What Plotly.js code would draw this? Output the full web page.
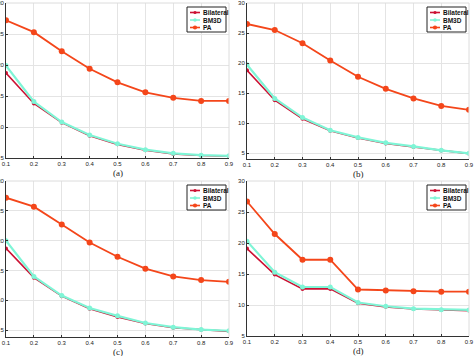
<!DOCTYPE html>
<html><head><meta charset="utf-8">
<script src="https://cdn.plot.ly/plotly-3.0.1.min.js"></script>
<style>html,body{margin:0;padding:0;background:#fff}#plot{width:474px;height:356px}</style>
</head><body><div id="plot"></div>
<script>
var xVals = [0.1,0.2,0.3,0.4,0.5,0.6,0.7,0.8,0.9];
var xTickLabels = ['0.1','0.2','0.3','0.4','0.5','0.6','0.7','0.8','0.9'];
var yTickVals = [5,10,15,20,25,30];
var seriesNames = ['Bilateral','BM3D','PA'];
var panelLabels = ['(a)','(b)','(c)','(d)'];

var bilateralA = [18.7,13.8,10.7,8.6,7.2,6.25,5.65,5.4,5.3];
var bm3dA      = [19.9,14.1,10.8,8.7,7.3,6.35,5.75,5.45,5.35];
var paA        = [27.2,25.3,22.2,19.4,17.2,15.6,14.7,14.2,14.2];

var bilateralB = [18.8,13.8,10.7,8.7,7.5,6.6,6.0,5.4,4.9];
var bm3dB      = [19.7,14.1,10.9,8.8,7.6,6.7,6.1,5.45,4.95];
var paB        = [26.5,25.5,23.3,20.4,17.7,15.7,14.1,12.85,12.2];

var bilateralC = [18.7,13.8,10.7,8.6,7.2,6.1,5.4,5.05,4.8];
var bm3dC      = [20.0,14.0,10.8,8.7,7.4,6.2,5.5,5.1,4.9];
var paC        = [27.2,25.7,22.7,19.7,17.3,15.3,14.0,13.4,13.1];

var bilateralD = [19.1,14.9,12.6,12.6,10.3,9.7,9.35,9.2,9.1];
var bm3dD      = [20.3,15.3,12.9,12.9,10.4,9.8,9.4,9.25,9.2];
var paD        = [26.7,21.45,17.3,17.3,12.5,12.35,12.2,12.15,12.15];

var colors = ['#cc1133','#7ff5d6','#f4461a'];
var W = 474, H = 356;

var panels = [
  {bil: bilateralA, bm: bm3dA, pa: paA, x0: 6, x1: 229, y0: 3, y1: 158, yr: [5,30]},
  {bil: bilateralB, bm: bm3dB, pa: paB, x0: 247, x1: 469, y0: 3, y1: 159, yr: [4,30]},
  {bil: bilateralC, bm: bm3dC, pa: paC, x0: 6, x1: 229, y0: 181, y1: 337, yr: [3.85,30]},
  {bil: bilateralD, bm: bm3dD, pa: paD, x0: 247, x1: 469, y0: 181, y1: 336, yr: [5,30]}
];

var traces = [], layout = {
  width: W, height: H, margin: {l:0,r:0,t:0,b:0},
  paper_bgcolor: '#fff', plot_bgcolor: '#fff', showlegend: false,
  font: {family: 'Liberation Sans, Arial, sans-serif', size: 6, color: '#222'},
  shapes: [], annotations: []
};

panels.forEach(function(p, i){
  var n = i + 1;
  var xa = 'x' + (n===1?'':n), ya = 'y' + (n===1?'':n);
  var xk = 'xaxis' + (n===1?'':n), yk = 'yaxis' + (n===1?'':n);
  var data = [p.bil, p.bm, p.pa];
  var msize = [4,5,6];
  var lw = [1.6,2.2,1.8];
  data.forEach(function(d, k){
    traces.push({x: xVals, y: d, xaxis: xa, yaxis: ya, type: 'scatter', mode: 'lines+markers',
      name: seriesNames[k], line: {color: colors[k], width: lw[k]},
      marker: {color: colors[k], size: msize[k], symbol: 'circle'}});
  });
  layout[xk] = {domain: [p.x0/W, p.x1/W], range: [0.1,0.9], tickvals: xVals, ticktext: xTickLabels,
    showgrid: true, gridcolor: '#e4e4e4', gridwidth: 1, zeroline: false,
    showline: true, linecolor: '#333', linewidth: 1, mirror: false,
    ticks: 'inside', ticklen: 2, tickcolor: '#333', tickfont: {size: 6, color: '#222'},
    anchor: ya, fixedrange: true, automargin: false};
  layout[yk] = {domain: [1 - p.y1/H, 1 - p.y0/H], range: p.yr, tickvals: yTickVals,
    showgrid: true, gridcolor: '#e4e4e4', gridwidth: 1, zeroline: false,
    showline: true, linecolor: '#333', linewidth: 1, mirror: false,
    ticks: 'inside', ticklen: 2, tickcolor: '#333', tickfont: {size: 6, color: '#222'},
    anchor: xa, fixedrange: true, automargin: false};
  layout.shapes.push({type:'line', xref:'paper', yref:'paper', x0:p.x1/W, x1:p.x1/W, y0:1-p.y1/H, y1:1-p.y0/H, line:{color:'#dcdcdc', width:1}});
  layout.shapes.push({type:'line', xref:'paper', yref:'paper', x0:p.x0/W, x1:p.x1/W, y0:1-p.y0/H, y1:1-p.y0/H, line:{color:'#dcdcdc', width:1}});
  layout.annotations.push({text: panelLabels[i], xref:'paper', yref:'paper', x: (p.x0+p.x1)/2/W, y: 1-(p.y1+15)/H,
    showarrow:false, xanchor:'center', yanchor:'middle', font:{family:'Liberation Serif, Times New Roman, serif', size:9, color:'#222'}});
  var lx0 = p.x1 - 42, lx1 = p.x1 - 3, ly0 = p.y0 + 4, ly1 = p.y0 + 29;
  layout.shapes.push({type:'rect', xref:'paper', yref:'paper', x0:lx0/W, x1:lx1/W, y0:1-ly1/H, y1:1-ly0/H,
    line:{color:'#222', width:1}, fillcolor:'#fff'});
  seriesNames.forEach(function(nm, k){
    var yy = ly0 + 5.5 + k*7.5;
    layout.shapes.push({type:'line', xref:'paper', yref:'paper', x0:(lx0+3)/W, x1:(lx0+13)/W, y0:1-yy/H, y1:1-yy/H,
      line:{color:colors[k], width:1.6}});
    var r = [1.6,1.8,2.1][k];
    layout.shapes.push({type:'circle', xref:'paper', yref:'paper', x0:(lx0+8-r)/W, x1:(lx0+8+r)/W, y0:1-(yy+r)/H, y1:1-(yy-r)/H,
      line:{color:colors[k], width:0}, fillcolor:colors[k]});
    layout.annotations.push({text:'<b>'+nm+'</b>', xref:'paper', yref:'paper', x:(lx0+14)/W, y:1-yy/H,
      showarrow:false, xanchor:'left', yanchor:'middle', font:{size:6.5, color:'#111'}});
  });
});

Plotly.newPlot('plot', traces, layout, {staticPlot: true, displayModeBar: false});
</script></body></html>
